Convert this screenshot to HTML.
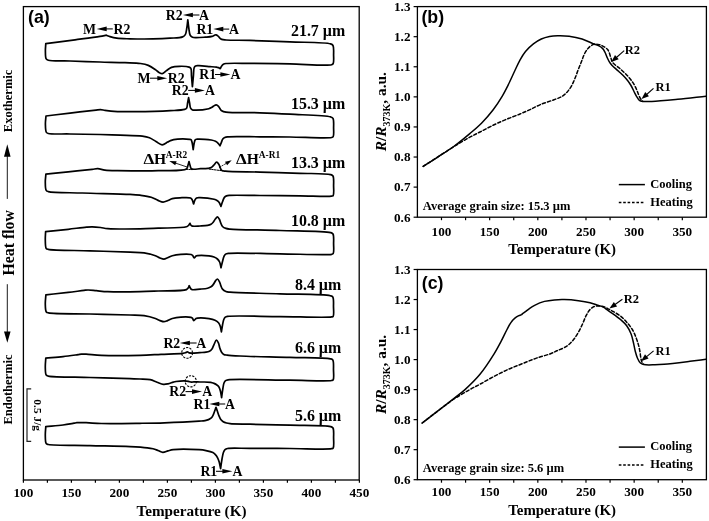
<!DOCTYPE html>
<html><head><meta charset="utf-8"><style>
html,body{margin:0;padding:0;background:#fff;}
svg{display:block;}
</style></head><body>
<svg width="709" height="521" viewBox="0 0 709 521">
<rect width="709" height="521" fill="#fff"/>
<rect x="23.40" y="6.60" width="335.80" height="473.40" fill="none" stroke="#000" stroke-width="1.3"/>
<line x1="23.40" y1="480.00" x2="23.40" y2="482.80" stroke="#000" stroke-width="1.20" />
<text x="23.40" y="496.80" font-size="13.20" font-family="'Liberation Serif','Times New Roman',serif" font-weight="bold" text-anchor="middle" >100</text>
<line x1="47.40" y1="480.00" x2="47.40" y2="482.80" stroke="#000" stroke-width="1.20" />
<line x1="71.40" y1="480.00" x2="71.40" y2="482.80" stroke="#000" stroke-width="1.20" />
<text x="71.40" y="496.80" font-size="13.20" font-family="'Liberation Serif','Times New Roman',serif" font-weight="bold" text-anchor="middle" >150</text>
<line x1="95.40" y1="480.00" x2="95.40" y2="482.80" stroke="#000" stroke-width="1.20" />
<line x1="119.40" y1="480.00" x2="119.40" y2="482.80" stroke="#000" stroke-width="1.20" />
<text x="119.40" y="496.80" font-size="13.20" font-family="'Liberation Serif','Times New Roman',serif" font-weight="bold" text-anchor="middle" >200</text>
<line x1="143.40" y1="480.00" x2="143.40" y2="482.80" stroke="#000" stroke-width="1.20" />
<line x1="167.40" y1="480.00" x2="167.40" y2="482.80" stroke="#000" stroke-width="1.20" />
<text x="167.40" y="496.80" font-size="13.20" font-family="'Liberation Serif','Times New Roman',serif" font-weight="bold" text-anchor="middle" >250</text>
<line x1="191.40" y1="480.00" x2="191.40" y2="482.80" stroke="#000" stroke-width="1.20" />
<line x1="215.40" y1="480.00" x2="215.40" y2="482.80" stroke="#000" stroke-width="1.20" />
<text x="215.40" y="496.80" font-size="13.20" font-family="'Liberation Serif','Times New Roman',serif" font-weight="bold" text-anchor="middle" >300</text>
<line x1="239.40" y1="480.00" x2="239.40" y2="482.80" stroke="#000" stroke-width="1.20" />
<line x1="263.40" y1="480.00" x2="263.40" y2="482.80" stroke="#000" stroke-width="1.20" />
<text x="263.40" y="496.80" font-size="13.20" font-family="'Liberation Serif','Times New Roman',serif" font-weight="bold" text-anchor="middle" >350</text>
<line x1="287.40" y1="480.00" x2="287.40" y2="482.80" stroke="#000" stroke-width="1.20" />
<line x1="311.40" y1="480.00" x2="311.40" y2="482.80" stroke="#000" stroke-width="1.20" />
<text x="311.40" y="496.80" font-size="13.20" font-family="'Liberation Serif','Times New Roman',serif" font-weight="bold" text-anchor="middle" >400</text>
<line x1="335.40" y1="480.00" x2="335.40" y2="482.80" stroke="#000" stroke-width="1.20" />
<line x1="359.40" y1="480.00" x2="359.40" y2="482.80" stroke="#000" stroke-width="1.20" />
<text x="359.40" y="496.80" font-size="13.20" font-family="'Liberation Serif','Times New Roman',serif" font-weight="bold" text-anchor="middle" >450</text>
<text x="191.50" y="516.40" font-size="15.20" font-family="'Liberation Serif','Times New Roman',serif" font-weight="bold" text-anchor="middle" >Temperature (K)</text>
<text x="28.00" y="23.00" font-size="17.80" font-family="'Liberation Sans',Arial,sans-serif" font-weight="bold" text-anchor="start" >(a)</text>
<text x="0" y="0" font-size="12.50" font-family="'Liberation Serif','Times New Roman',serif" font-weight="bold" text-anchor="middle" transform="translate(12.00,100.90) rotate(-90)" >Exothermic</text>
<text x="0" y="0" font-size="15.80" font-family="'Liberation Serif','Times New Roman',serif" font-weight="bold" text-anchor="middle" transform="translate(14.10,242.80) rotate(-90)" >Heat flow</text>
<text x="0" y="0" font-size="12.50" font-family="'Liberation Serif','Times New Roman',serif" font-weight="bold" text-anchor="middle" transform="translate(12.00,389.50) rotate(-90)" >Endothermic</text>
<line x1="7.30" y1="198.90" x2="7.30" y2="154.00" stroke="#000" stroke-width="0.90" />
<polygon points="7.3,144.2 4.0,156.8 10.6,156.8" fill="#000"/>
<line x1="7.30" y1="284.20" x2="7.30" y2="334.00" stroke="#000" stroke-width="0.90" />
<polygon points="7.3,342.8 4.0,331.5 10.6,331.5" fill="#000"/>
<path d="M31.2,388.8 L27,388.8 L27,441.3 L31.2,441.3" fill="none" stroke="#222" stroke-width="1.2"/>
<text x="0" y="0" font-size="11.40" font-family="'Liberation Serif','Times New Roman',serif" font-weight="bold" text-anchor="middle" transform="translate(33.60,415.20) rotate(90)" >0.5 J/g</text>
<path d="M45.80,43.60 C55.53,42.33 65.65,41.04 75.00,39.80 C83.66,38.65 94.41,37.30 100.00,36.40 C102.84,35.94 104.27,35.60 106.40,35.20 C107.60,35.67 108.60,36.16 110.00,36.60 C111.87,37.18 114.07,37.83 116.70,38.20 C120.36,38.71 124.97,38.68 130.00,38.80 C136.58,38.96 145.74,39.03 152.80,38.90 C158.94,38.79 164.72,38.58 170.00,38.20 C174.53,37.87 180.03,38.00 182.60,36.90 C183.96,36.32 184.63,35.71 185.30,34.60 C186.23,33.06 186.39,30.33 186.80,28.00 C187.25,25.43 187.47,22.53 187.80,19.80 C188.13,22.53 188.38,25.36 188.80,28.00 C189.19,30.49 189.29,33.63 190.20,35.20 C190.78,36.21 191.60,36.78 192.50,37.20 C193.43,37.63 194.35,37.63 195.70,37.70 C197.99,37.82 202.12,37.44 205.00,37.20 C207.50,36.99 210.28,36.89 212.00,36.40 C213.08,36.09 213.76,35.47 214.50,35.20 C215.05,35.00 215.49,34.74 216.00,34.80 C216.59,34.87 217.24,35.35 217.80,35.80 C218.45,36.31 218.94,37.20 219.60,37.80 C220.27,38.40 220.89,39.03 221.80,39.40 C222.93,39.86 224.02,39.84 226.00,40.00 C230.71,40.37 240.99,40.16 250.00,40.40 C261.64,40.72 276.62,41.32 290.00,41.90 C303.48,42.48 325.38,42.18 330.60,43.90 C331.99,44.36 332.44,44.54 333.00,45.50 C334.01,47.25 333.58,51.92 333.60,55.00 C333.62,57.91 333.98,62.02 333.20,63.50 C332.82,64.22 332.58,64.38 331.60,64.70 C327.11,66.15 303.73,64.12 290.00,63.90 C276.54,63.69 261.64,63.45 250.00,63.40 C240.98,63.36 229.95,62.97 226.00,63.50 C224.68,63.68 224.15,63.76 223.40,64.20 C222.64,64.65 222.05,65.46 221.50,66.20 C220.94,66.96 220.65,68.58 220.10,68.70 C219.66,68.80 219.17,67.85 218.60,67.60 C217.98,67.33 217.40,67.33 216.50,67.20 C214.93,66.98 212.45,66.81 210.00,66.60 C206.81,66.32 201.65,65.73 199.00,65.70 C197.51,65.68 196.33,65.48 195.50,65.90 C194.87,66.22 194.53,66.68 194.20,67.50 C193.52,69.16 193.68,73.00 193.40,76.00 C193.08,79.36 192.73,83.13 192.40,86.70 C192.10,83.13 191.77,79.26 191.50,76.00 C191.28,73.25 191.67,69.81 190.90,68.40 C190.49,67.65 190.07,67.44 189.20,67.10 C187.33,66.38 182.49,66.21 179.40,66.30 C176.62,66.38 173.80,66.54 171.50,67.40 C169.43,68.17 167.75,69.80 166.10,70.90 C164.69,71.85 163.48,73.44 162.20,73.60 C161.12,73.73 160.01,72.96 159.00,72.40 C157.94,71.81 157.26,70.96 156.00,70.10 C154.05,68.77 150.96,66.51 148.30,65.40 C145.79,64.36 143.57,63.95 140.50,63.50 C136.24,62.88 130.78,62.93 125.00,62.70 C117.66,62.41 108.71,62.27 100.00,62.00 C90.46,61.71 79.19,61.30 70.00,61.00 C62.18,60.74 51.67,61.38 48.30,60.30 C47.15,59.93 46.70,59.73 46.20,58.90 C45.31,57.42 45.46,53.59 45.40,51.00 C45.34,48.50 45.67,46.07 45.80,43.60" fill="none" stroke="#000" stroke-width="1.70" stroke-linejoin="round" stroke-linecap="round" />
<path d="M46.00,116.00 C54.00,115.03 61.84,114.06 70.00,113.10 C78.49,112.10 90.91,110.62 96.00,110.10 C98.12,109.88 99.00,109.67 100.50,109.70 C102.00,109.73 103.24,110.09 105.00,110.30 C107.50,110.60 110.43,111.06 114.10,111.30 C119.69,111.66 127.34,111.74 135.30,111.70 C145.55,111.65 161.41,111.25 170.50,110.70 C176.26,110.35 182.07,110.23 184.60,109.40 C185.62,109.06 186.11,108.90 186.60,108.20 C187.34,107.15 187.27,104.74 187.60,103.00 C187.93,101.24 188.27,99.47 188.60,97.70 C188.93,99.47 189.27,101.24 189.60,103.00 C189.93,104.74 189.92,107.01 190.60,108.20 C191.07,109.03 191.82,109.57 192.50,109.90 C193.09,110.18 193.47,110.18 194.40,110.20 C196.96,110.27 205.93,109.42 208.80,108.70 C210.09,108.38 210.66,108.07 211.50,107.60 C212.33,107.13 213.00,106.36 213.80,105.90 C214.57,105.47 215.42,104.84 216.20,104.90 C216.99,104.96 217.85,105.66 218.50,106.30 C219.21,107.00 219.62,108.22 220.20,109.00 C220.69,109.65 220.99,110.23 221.70,110.70 C222.71,111.36 223.85,111.74 226.00,112.10 C231.91,113.10 249.02,112.43 260.00,112.80 C270.32,113.15 279.25,113.59 290.00,114.20 C302.51,114.91 325.38,115.21 330.60,116.90 C331.98,117.35 332.44,117.47 333.00,118.40 C334.03,120.12 333.58,124.89 333.60,128.00 C333.62,130.94 334.03,135.25 333.20,136.60 C332.82,137.22 332.55,137.26 331.60,137.50 C327.09,138.65 302.74,137.12 290.00,137.00 C279.18,136.90 270.20,136.83 260.00,136.80 C249.38,136.76 232.33,136.27 227.50,136.80 C226.09,136.95 225.59,137.02 224.80,137.40 C224.04,137.77 223.35,138.27 222.80,139.00 C222.12,139.90 221.78,141.43 221.30,142.60 C220.85,143.70 220.43,144.73 220.00,145.80 C219.47,145.07 219.07,144.30 218.40,143.60 C217.62,142.79 216.64,141.89 215.50,141.30 C214.22,140.64 212.62,140.33 211.00,140.00 C209.16,139.63 207.15,139.44 205.00,139.30 C202.53,139.14 198.64,139.01 197.00,139.20 C196.26,139.29 195.83,139.21 195.40,139.60 C194.77,140.17 194.53,141.66 194.20,143.00 C193.74,144.84 193.53,147.47 193.20,149.70 C192.87,147.47 192.66,144.84 192.20,143.00 C191.87,141.66 191.62,140.14 191.00,139.60 C190.59,139.25 190.24,139.38 189.50,139.30 C187.43,139.09 181.04,138.88 177.60,139.20 C174.91,139.45 172.29,139.96 170.50,140.60 C169.31,141.02 168.80,141.54 167.70,142.10 C166.16,142.88 164.00,144.84 162.10,144.80 C160.10,144.75 158.07,142.64 156.00,141.50 C153.84,140.31 151.71,138.70 149.40,137.80 C147.14,136.91 145.35,136.53 142.30,136.10 C136.96,135.35 127.23,135.37 120.00,135.10 C113.15,134.84 107.34,134.67 100.00,134.50 C91.01,134.29 79.19,134.18 70.00,134.00 C62.18,133.84 51.56,134.41 48.30,133.50 C47.26,133.21 46.88,133.12 46.40,132.40 C45.46,130.98 45.46,126.77 45.40,124.00 C45.34,121.30 45.80,118.67 46.00,116.00" fill="none" stroke="#000" stroke-width="1.70" stroke-linejoin="round" stroke-linecap="round" />
<path d="M45.90,174.20 C53.33,173.40 60.63,172.60 68.20,171.80 C76.05,170.97 86.99,169.85 92.20,169.30 C94.72,169.03 95.83,168.61 97.80,168.70 C100.03,168.80 102.18,169.77 104.90,170.10 C108.51,170.54 112.77,170.58 117.60,170.70 C124.01,170.87 132.92,170.82 140.00,170.80 C146.38,170.78 151.47,170.83 158.20,170.60 C166.58,170.32 182.88,171.47 186.40,169.00 C187.69,168.09 187.47,166.71 187.90,165.50 C188.34,164.25 188.63,162.90 189.00,161.60 C189.37,162.90 189.68,164.26 190.10,165.50 C190.49,166.66 190.41,168.13 191.40,168.80 C192.99,169.87 197.61,168.79 200.50,168.70 C203.12,168.62 206.02,168.59 208.00,168.30 C209.33,168.10 210.33,168.02 211.30,167.50 C212.27,166.98 212.96,166.03 213.80,165.20 C214.72,164.28 215.71,162.24 216.60,162.20 C217.36,162.17 218.20,163.33 218.80,164.20 C219.52,165.24 219.85,167.08 220.40,168.20 C220.82,169.06 221.01,169.90 221.70,170.40 C222.55,171.01 223.53,170.97 225.40,171.20 C231.07,171.88 248.05,171.77 260.00,172.10 C272.85,172.46 287.56,172.85 300.00,173.30 C310.88,173.69 326.20,173.31 330.60,174.60 C331.93,174.99 332.44,175.09 333.00,176.00 C334.06,177.73 333.57,182.72 333.60,186.00 C333.63,189.18 334.11,194.08 333.20,195.40 C332.81,195.97 332.50,195.92 331.60,196.10 C327.76,196.88 311.15,195.89 300.00,195.80 C287.45,195.69 272.43,195.57 260.00,195.50 C249.15,195.44 234.35,195.01 229.50,195.40 C227.97,195.52 227.38,195.54 226.50,195.90 C225.69,196.23 224.99,196.67 224.40,197.40 C223.62,198.36 223.16,200.06 222.60,201.50 C221.99,203.05 221.47,204.77 220.90,206.40 C220.33,205.10 219.94,203.53 219.20,202.50 C218.58,201.64 217.84,201.03 217.00,200.50 C216.14,199.96 215.46,199.66 214.10,199.30 C211.20,198.54 203.10,197.65 200.00,197.60 C198.48,197.58 197.46,197.45 196.60,197.90 C195.87,198.28 195.45,198.99 195.00,199.80 C194.39,200.88 194.07,202.60 193.60,204.00 C193.13,202.60 192.81,200.86 192.20,199.80 C191.75,199.02 191.50,198.42 190.60,198.00 C188.70,197.13 183.25,197.66 180.00,197.80 C177.22,197.92 174.46,198.03 172.30,198.60 C170.62,199.05 169.50,199.93 168.00,200.50 C166.43,201.10 164.75,202.11 163.10,202.10 C161.42,202.09 159.80,201.12 158.00,200.40 C155.87,199.55 153.81,198.03 151.20,197.20 C147.99,196.18 143.64,195.67 140.00,195.20 C136.58,194.76 134.58,194.65 130.00,194.40 C120.02,193.85 96.86,193.51 82.30,193.00 C70.01,192.57 52.76,192.88 48.30,191.60 C47.11,191.26 46.71,191.18 46.20,190.40 C45.24,188.94 45.34,184.75 45.30,182.00 C45.26,179.35 45.70,176.80 45.90,174.20" fill="none" stroke="#000" stroke-width="1.70" stroke-linejoin="round" stroke-linecap="round" />
<path d="M45.60,231.70 C53.13,230.90 61.07,230.11 68.20,229.30 C74.62,228.57 82.13,227.48 86.50,227.10 C88.93,226.89 90.12,226.77 92.20,226.80 C94.73,226.84 97.92,227.18 100.60,227.50 C103.07,227.79 104.46,228.34 107.70,228.60 C114.56,229.16 130.77,229.03 140.00,228.90 C146.93,228.80 151.47,228.50 158.20,228.20 C166.58,227.83 182.36,228.16 186.40,226.80 C187.64,226.38 187.99,225.90 188.60,225.30 C189.18,224.73 189.53,223.97 190.00,223.30 C190.33,223.97 190.56,224.82 191.00,225.30 C191.36,225.70 191.65,225.92 192.30,226.10 C193.76,226.50 197.44,226.12 200.00,226.00 C202.54,225.88 205.59,225.83 207.60,225.40 C208.98,225.11 210.04,224.78 211.00,224.20 C211.87,223.68 212.50,223.00 213.20,222.20 C214.02,221.26 214.72,219.74 215.50,218.80 C216.13,218.04 216.77,216.87 217.40,216.90 C218.08,216.93 218.85,218.35 219.40,219.30 C220.03,220.40 220.27,221.97 220.80,223.20 C221.31,224.36 221.67,225.64 222.50,226.50 C223.35,227.38 224.67,227.97 225.90,228.40 C227.17,228.85 227.86,228.89 230.00,229.10 C237.41,229.83 263.29,229.92 280.00,230.50 C296.82,231.08 324.63,230.85 330.60,232.60 C332.00,233.01 332.44,233.09 333.00,234.00 C334.06,235.73 333.57,240.70 333.60,244.00 C333.63,247.23 334.12,252.26 333.20,253.60 C332.81,254.17 332.54,254.11 331.60,254.30 C326.48,255.35 297.19,253.97 280.00,253.80 C262.83,253.63 235.06,252.44 228.50,253.30 C226.91,253.51 226.36,253.57 225.60,254.10 C224.88,254.60 224.46,255.36 224.00,256.30 C223.35,257.62 222.98,259.69 222.50,261.50 C221.98,263.47 221.50,265.63 221.00,267.70 C220.53,265.80 220.32,263.54 219.60,262.00 C219.03,260.77 218.31,259.83 217.40,259.00 C216.46,258.15 215.29,257.51 214.00,257.00 C212.53,256.42 211.02,256.15 209.00,255.90 C205.97,255.53 199.53,255.36 197.50,255.60 C196.76,255.69 196.49,255.72 196.00,256.00 C195.38,256.36 194.75,257.85 194.20,257.80 C193.61,257.74 193.18,255.97 192.60,255.40 C192.16,254.97 191.93,254.72 191.20,254.50 C189.38,253.95 184.08,254.06 180.80,254.30 C177.81,254.52 174.69,254.99 172.30,255.70 C170.43,256.25 168.99,257.20 167.50,257.80 C166.22,258.31 165.13,259.06 163.90,259.10 C162.63,259.15 161.33,258.51 160.00,258.00 C158.50,257.42 157.32,256.41 155.40,255.70 C152.51,254.63 148.11,253.49 144.10,252.90 C139.69,252.25 135.90,252.45 130.00,252.20 C120.07,251.78 103.47,251.26 90.00,250.80 C76.24,250.33 53.35,250.63 48.30,249.40 C47.11,249.11 46.71,249.12 46.20,248.40 C45.22,247.02 45.40,242.80 45.30,240.00 C45.20,237.23 45.50,234.47 45.60,231.70" fill="none" stroke="#000" stroke-width="1.70" stroke-linejoin="round" stroke-linecap="round" />
<path d="M45.90,294.80 C53.33,294.00 61.41,293.20 68.20,292.40 C73.92,291.73 80.47,290.80 84.00,290.40 C85.77,290.20 86.42,290.01 88.00,290.00 C90.29,289.98 93.39,290.44 96.40,290.70 C99.89,291.00 102.96,291.49 107.70,291.70 C115.70,292.05 130.77,291.88 140.00,291.70 C146.93,291.57 151.47,291.30 158.20,291.00 C166.58,290.63 182.61,291.22 186.40,289.60 C187.55,289.11 187.83,288.48 188.30,287.80 C188.74,287.17 188.90,286.40 189.20,285.70 C189.53,286.40 189.79,287.16 190.20,287.80 C190.60,288.42 190.81,289.15 191.60,289.50 C193.15,290.19 197.27,289.33 200.00,289.10 C202.60,288.88 205.60,288.72 207.60,288.20 C208.99,287.84 210.04,287.44 211.00,286.80 C211.88,286.21 212.51,285.47 213.20,284.60 C214.02,283.56 214.71,281.89 215.50,280.90 C216.12,280.12 216.78,278.96 217.40,279.00 C218.08,279.04 218.85,280.59 219.40,281.60 C220.02,282.75 220.27,284.33 220.80,285.60 C221.31,286.82 221.67,288.13 222.50,289.10 C223.36,290.11 224.65,290.98 225.90,291.50 C227.15,292.02 227.86,291.98 230.00,292.20 C237.41,292.95 263.31,293.22 280.00,293.80 C296.74,294.38 324.24,294.10 330.30,295.70 C331.73,296.08 332.21,296.10 332.80,297.00 C333.91,298.69 333.44,303.73 333.50,307.00 C333.56,310.13 334.08,314.90 333.20,316.20 C332.82,316.77 332.54,316.71 331.60,316.90 C326.48,317.96 297.27,316.68 280.00,316.60 C262.58,316.52 233.42,315.37 227.50,316.40 C226.25,316.62 225.90,316.72 225.30,317.20 C224.65,317.72 224.21,318.54 223.80,319.50 C223.24,320.81 222.97,322.67 222.60,324.50 C222.16,326.70 221.80,329.37 221.40,331.80 C221.00,329.87 220.78,327.61 220.20,326.00 C219.74,324.74 219.30,323.73 218.50,322.80 C217.62,321.77 216.40,320.88 215.00,320.20 C213.33,319.39 211.35,318.96 209.00,318.60 C205.81,318.11 199.52,317.82 197.50,318.10 C196.75,318.20 196.51,318.30 196.00,318.60 C195.29,319.01 194.41,320.69 193.80,320.60 C193.21,320.51 192.95,318.74 192.40,318.20 C191.98,317.79 191.72,317.60 191.00,317.40 C189.19,316.89 184.04,316.88 180.80,317.10 C177.83,317.30 174.69,317.79 172.30,318.50 C170.43,319.05 169.00,320.04 167.50,320.60 C166.23,321.07 165.13,321.69 163.90,321.70 C162.63,321.71 161.33,321.09 160.00,320.60 C158.51,320.05 157.31,319.17 155.40,318.50 C152.50,317.49 148.11,316.29 144.10,315.70 C139.69,315.05 135.90,315.22 130.00,315.00 C120.07,314.63 103.46,314.35 90.00,314.00 C76.29,313.65 53.64,314.08 48.50,312.90 C47.26,312.61 46.84,312.63 46.30,311.90 C45.32,310.57 45.38,306.74 45.30,304.00 C45.21,301.05 45.70,297.87 45.90,294.80" fill="none" stroke="#000" stroke-width="1.70" stroke-linejoin="round" stroke-linecap="round" />
<path d="M45.80,358.10 C51.53,357.60 57.47,357.21 63.00,356.60 C68.18,356.03 74.74,355.05 78.00,354.60 C79.57,354.38 80.25,354.19 81.50,354.10 C82.93,354.00 84.12,354.02 86.10,354.10 C89.71,354.24 95.13,355.05 101.40,355.30 C111.34,355.69 129.08,355.53 140.00,355.30 C148.06,355.13 153.93,354.71 161.00,354.40 C168.20,354.08 179.03,353.90 182.80,353.40 C184.14,353.22 184.70,353.09 185.50,352.80 C186.21,352.54 186.77,351.79 187.40,351.80 C188.04,351.81 188.58,352.68 189.30,352.90 C190.10,353.15 190.87,353.09 192.00,353.10 C193.93,353.11 197.35,352.76 199.80,352.60 C201.99,352.46 204.24,352.50 206.00,352.20 C207.35,351.97 208.50,351.73 209.50,351.20 C210.40,350.72 211.12,350.17 211.80,349.30 C212.69,348.15 213.24,346.13 214.00,344.60 C214.74,343.10 215.49,340.28 216.30,340.20 C216.97,340.13 217.85,341.71 218.40,342.80 C219.10,344.18 219.24,346.38 219.80,348.00 C220.32,349.49 220.84,351.08 221.60,352.20 C222.23,353.12 222.91,353.92 223.80,354.40 C224.73,354.90 225.63,354.89 227.10,355.10 C229.98,355.50 234.29,355.72 240.00,356.00 C251.22,356.55 274.23,356.91 290.00,357.40 C304.16,357.84 324.99,357.49 330.30,358.80 C331.69,359.14 332.21,359.13 332.80,360.00 C333.92,361.65 333.43,366.68 333.50,370.00 C333.56,373.28 334.12,378.44 333.20,379.80 C332.81,380.37 332.53,380.31 331.60,380.50 C327.08,381.43 305.25,380.30 290.00,380.20 C271.39,380.07 234.77,378.72 228.00,379.80 C226.63,380.02 226.25,380.10 225.60,380.60 C224.90,381.13 224.43,381.97 224.00,383.00 C223.38,384.51 223.17,386.81 222.80,389.00 C222.36,391.60 222.00,394.73 221.60,397.60 C221.20,395.40 220.94,392.93 220.40,391.00 C219.96,389.42 219.50,387.85 218.80,386.80 C218.26,386.00 217.64,385.54 216.90,385.00 C216.07,384.39 215.02,383.85 214.00,383.40 C212.96,382.94 212.14,382.55 210.70,382.30 C208.18,381.85 203.05,382.09 200.00,382.00 C197.71,381.93 195.60,381.71 194.00,381.80 C192.92,381.86 192.20,382.27 191.30,382.20 C190.37,382.12 189.54,381.53 188.50,381.30 C187.25,381.03 185.94,380.83 184.30,380.80 C182.00,380.76 177.98,381.19 176.00,381.50 C174.88,381.68 174.42,381.82 173.40,382.10 C171.92,382.50 169.75,383.43 168.00,383.80 C166.42,384.13 165.04,384.47 163.40,384.30 C161.42,384.09 159.16,382.95 157.00,382.20 C154.76,381.42 152.74,380.24 150.20,379.70 C147.18,379.06 143.38,379.17 140.00,379.00 C136.65,378.83 134.44,378.83 130.00,378.70 C121.11,378.43 103.47,377.93 90.00,377.50 C76.24,377.06 53.35,377.33 48.30,376.10 C47.11,375.81 46.71,375.82 46.20,375.10 C45.24,373.75 45.38,369.77 45.30,367.00 C45.22,364.11 45.63,361.07 45.80,358.10" fill="none" stroke="#000" stroke-width="1.70" stroke-linejoin="round" stroke-linecap="round" />
<path d="M45.80,426.60 C51.53,426.07 57.91,425.65 63.00,425.00 C67.08,424.48 71.51,423.62 74.00,423.20 C75.28,422.99 75.66,422.81 76.90,422.70 C79.10,422.51 82.65,422.61 86.10,422.70 C90.56,422.82 95.14,423.35 101.40,423.50 C111.34,423.73 128.59,423.45 140.00,423.30 C149.09,423.18 155.63,423.11 164.50,422.80 C175.04,422.43 192.36,421.55 199.10,421.10 C201.89,420.91 203.30,420.91 205.00,420.60 C206.33,420.36 207.45,420.04 208.50,419.60 C209.43,419.21 210.28,418.84 211.00,418.20 C211.76,417.52 212.34,416.62 212.90,415.60 C213.58,414.36 214.07,412.63 214.60,411.20 C215.10,409.86 215.53,408.60 216.00,407.30 C216.47,408.60 216.92,409.84 217.40,411.20 C217.92,412.69 218.40,414.46 219.00,415.90 C219.54,417.20 220.05,418.50 220.80,419.50 C221.48,420.40 222.28,421.12 223.20,421.70 C224.16,422.30 225.36,422.68 226.50,423.00 C227.66,423.32 228.41,423.43 230.10,423.60 C234.05,423.99 242.22,423.99 250.00,424.20 C261.03,424.50 276.62,424.80 290.00,425.20 C303.48,425.60 325.37,425.09 330.60,426.60 C331.97,427.00 332.44,427.09 333.00,428.00 C334.06,429.73 333.57,434.67 333.60,438.00 C333.63,441.33 334.14,446.62 333.20,448.00 C332.81,448.57 332.53,448.51 331.60,448.70 C327.08,449.63 303.73,448.55 290.00,448.50 C276.54,448.45 261.43,448.39 250.00,448.40 C241.43,448.41 231.21,447.71 227.50,448.50 C226.21,448.77 225.67,448.99 225.00,449.60 C224.27,450.27 223.85,451.30 223.40,452.50 C222.76,454.20 222.43,456.61 222.00,459.00 C221.48,461.88 221.07,465.40 220.60,468.60 C220.13,466.40 219.77,463.93 219.20,462.00 C218.74,460.42 218.27,459.07 217.60,457.80 C216.98,456.62 216.23,455.49 215.40,454.60 C214.65,453.79 214.01,453.18 212.90,452.60 C211.23,451.73 208.32,451.08 206.00,450.60 C203.72,450.12 202.14,449.90 199.10,449.70 C193.23,449.31 178.52,448.96 173.20,449.60 C170.78,449.89 169.73,450.43 168.00,450.90 C166.26,451.37 164.49,452.48 162.80,452.40 C161.15,452.32 159.62,451.10 158.00,450.50 C156.36,449.90 154.74,449.25 153.00,448.80 C151.18,448.33 149.72,448.10 147.30,447.80 C143.10,447.29 136.96,446.93 130.00,446.60 C119.42,446.10 103.47,445.95 90.00,445.60 C76.24,445.25 53.36,445.61 48.30,444.50 C47.12,444.24 46.71,444.30 46.20,443.60 C45.20,442.24 45.36,437.85 45.30,435.00 C45.24,432.19 45.63,429.40 45.80,426.60" fill="none" stroke="#000" stroke-width="1.70" stroke-linejoin="round" stroke-linecap="round" />
<text x="318.10" y="36.40" font-size="15.90" font-family="'Liberation Serif','Times New Roman',serif" font-weight="bold" text-anchor="middle" >21.7 &#181;m</text>
<text x="318.10" y="108.70" font-size="15.90" font-family="'Liberation Serif','Times New Roman',serif" font-weight="bold" text-anchor="middle" >15.3 &#181;m</text>
<text x="318.10" y="168.30" font-size="15.90" font-family="'Liberation Serif','Times New Roman',serif" font-weight="bold" text-anchor="middle" >13.3 &#181;m</text>
<text x="318.10" y="226.10" font-size="15.90" font-family="'Liberation Serif','Times New Roman',serif" font-weight="bold" text-anchor="middle" >10.8 &#181;m</text>
<text x="318.10" y="289.80" font-size="15.90" font-family="'Liberation Serif','Times New Roman',serif" font-weight="bold" text-anchor="middle" >8.4 &#181;m</text>
<text x="318.10" y="352.70" font-size="15.90" font-family="'Liberation Serif','Times New Roman',serif" font-weight="bold" text-anchor="middle" >6.6 &#181;m</text>
<text x="318.10" y="420.70" font-size="15.90" font-family="'Liberation Serif','Times New Roman',serif" font-weight="bold" text-anchor="middle" >5.6 &#181;m</text>
<text x="83.00" y="33.60" font-size="13.80" font-family="'Liberation Serif','Times New Roman',serif" font-weight="bold" text-anchor="start" >M</text>
<line x1="112.80" y1="28.90" x2="105.70" y2="28.90" stroke="#000" stroke-width="1.05" />
<polygon points="96.70,28.90 106.70,26.60 106.70,31.20" fill="#000"/>
<text x="113.60" y="33.60" font-size="13.80" font-family="'Liberation Serif','Times New Roman',serif" font-weight="bold" text-anchor="start" >R2</text>
<text x="165.80" y="19.90" font-size="13.80" font-family="'Liberation Serif','Times New Roman',serif" font-weight="bold" text-anchor="start" >R2</text>
<line x1="199.40" y1="15.00" x2="191.90" y2="15.00" stroke="#000" stroke-width="1.05" />
<polygon points="182.90,15.00 192.90,12.70 192.90,17.30" fill="#000"/>
<text x="199.00" y="19.90" font-size="13.80" font-family="'Liberation Serif','Times New Roman',serif" font-weight="bold" text-anchor="start" >A</text>
<text x="196.40" y="33.80" font-size="13.80" font-family="'Liberation Serif','Times New Roman',serif" font-weight="bold" text-anchor="start" >R1</text>
<line x1="229.20" y1="29.10" x2="222.30" y2="29.10" stroke="#000" stroke-width="1.05" />
<polygon points="213.30,29.10 223.30,26.80 223.30,31.40" fill="#000"/>
<text x="229.00" y="33.80" font-size="13.80" font-family="'Liberation Serif','Times New Roman',serif" font-weight="bold" text-anchor="start" >A</text>
<text x="137.40" y="82.80" font-size="13.80" font-family="'Liberation Serif','Times New Roman',serif" font-weight="bold" text-anchor="start" >M</text>
<line x1="149.80" y1="78.20" x2="158.30" y2="78.20" stroke="#000" stroke-width="1.05" />
<polygon points="167.30,78.20 157.30,80.50 157.30,75.90" fill="#000"/>
<text x="167.70" y="82.80" font-size="13.80" font-family="'Liberation Serif','Times New Roman',serif" font-weight="bold" text-anchor="start" >R2</text>
<text x="199.20" y="79.10" font-size="13.80" font-family="'Liberation Serif','Times New Roman',serif" font-weight="bold" text-anchor="start" >R1</text>
<line x1="215.00" y1="74.50" x2="221.40" y2="74.50" stroke="#000" stroke-width="1.05" />
<polygon points="230.40,74.50 220.40,76.80 220.40,72.20" fill="#000"/>
<text x="230.60" y="79.10" font-size="13.80" font-family="'Liberation Serif','Times New Roman',serif" font-weight="bold" text-anchor="start" >A</text>
<text x="171.70" y="95.10" font-size="13.80" font-family="'Liberation Serif','Times New Roman',serif" font-weight="bold" text-anchor="start" >R2</text>
<line x1="188.20" y1="90.40" x2="195.90" y2="90.40" stroke="#000" stroke-width="1.05" />
<polygon points="204.90,90.40 194.90,92.70 194.90,88.10" fill="#000"/>
<text x="205.10" y="95.10" font-size="13.80" font-family="'Liberation Serif','Times New Roman',serif" font-weight="bold" text-anchor="start" >A</text>
<text x="0" y="0" font-size="15.6" font-family="'Liberation Serif','Times New Roman',serif" font-weight="bold" transform="translate(143.4,164.3) scale(1.1,1)">&#916;</text>
<text x="154.00" y="164.30" font-size="15.60" font-family="'Liberation Serif','Times New Roman',serif" font-weight="bold" text-anchor="start" >H</text>
<text x="165.80" y="157.80" font-size="9.40" font-family="'Liberation Serif','Times New Roman',serif" font-weight="bold" text-anchor="start" >A-R2</text>
<line x1="187.60" y1="167.20" x2="174.98" y2="162.93" stroke="#000" stroke-width="0.85" />
<polygon points="169.30,161.00 176.60,161.26 175.26,165.24" fill="#000"/>
<text x="0" y="0" font-size="15.6" font-family="'Liberation Serif','Times New Roman',serif" font-weight="bold" transform="translate(236.1,164.3) scale(1.1,1)">&#916;</text>
<text x="246.70" y="164.30" font-size="15.60" font-family="'Liberation Serif','Times New Roman',serif" font-weight="bold" text-anchor="start" >H</text>
<text x="258.80" y="157.80" font-size="9.40" font-family="'Liberation Serif','Times New Roman',serif" font-weight="bold" text-anchor="start" >A-R1</text>
<line x1="219.00" y1="167.60" x2="226.95" y2="162.97" stroke="#000" stroke-width="0.85" stroke-dasharray="2.2,0.8"/>
<polygon points="231.70,160.20 227.14,165.29 225.03,161.66" fill="#000"/>
<path d="M186.4,169.3 L192,169.6" fill="none" stroke="#000" stroke-width="1.00" stroke-linejoin="round" stroke-linecap="round" stroke-dasharray="1.5,1"/>
<path d="M209,169.1 L222.6,170.8" fill="none" stroke="#000" stroke-width="1.00" stroke-linejoin="round" stroke-linecap="round" stroke-dasharray="1.6,1.1"/>
<text x="163.40" y="347.60" font-size="13.80" font-family="'Liberation Serif','Times New Roman',serif" font-weight="bold" text-anchor="start" >R2</text>
<line x1="196.60" y1="343.00" x2="188.90" y2="343.00" stroke="#000" stroke-width="1.05" />
<polygon points="179.90,343.00 189.90,340.70 189.90,345.30" fill="#000"/>
<text x="196.20" y="347.60" font-size="13.80" font-family="'Liberation Serif','Times New Roman',serif" font-weight="bold" text-anchor="start" >A</text>
<text x="169.20" y="396.30" font-size="13.80" font-family="'Liberation Serif','Times New Roman',serif" font-weight="bold" text-anchor="start" >R2</text>
<line x1="185.50" y1="391.60" x2="193.00" y2="391.60" stroke="#000" stroke-width="1.05" />
<polygon points="202.00,391.60 192.00,393.90 192.00,389.30" fill="#000"/>
<text x="202.20" y="396.30" font-size="13.80" font-family="'Liberation Serif','Times New Roman',serif" font-weight="bold" text-anchor="start" >A</text>
<circle cx="187.1" cy="352.9" r="5.4" fill="none" stroke="#000" stroke-width="1.1" stroke-dasharray="2.2,1.2"/>
<circle cx="190.8" cy="381.3" r="5.6" fill="none" stroke="#000" stroke-width="1.1" stroke-dasharray="2.2,1.2"/>
<text x="193.50" y="408.60" font-size="13.80" font-family="'Liberation Serif','Times New Roman',serif" font-weight="bold" text-anchor="start" >R1</text>
<line x1="225.20" y1="404.00" x2="218.30" y2="404.00" stroke="#000" stroke-width="1.05" />
<polygon points="209.30,404.00 219.30,401.70 219.30,406.30" fill="#000"/>
<text x="225.00" y="408.60" font-size="13.80" font-family="'Liberation Serif','Times New Roman',serif" font-weight="bold" text-anchor="start" >A</text>
<text x="200.40" y="476.00" font-size="13.80" font-family="'Liberation Serif','Times New Roman',serif" font-weight="bold" text-anchor="start" >R1</text>
<line x1="216.00" y1="471.30" x2="223.40" y2="471.30" stroke="#000" stroke-width="1.05" />
<polygon points="232.40,471.30 222.40,473.60 222.40,469.00" fill="#000"/>
<text x="232.40" y="476.10" font-size="13.80" font-family="'Liberation Serif','Times New Roman',serif" font-weight="bold" text-anchor="start" >A</text>
<rect x="417.40" y="6.60" width="289.00" height="210.60" fill="none" stroke="#000" stroke-width="1.3"/>
<line x1="441.48" y1="217.20" x2="441.48" y2="220.20" stroke="#000" stroke-width="1.20" />
<text x="441.48" y="235.70" font-size="13.20" font-family="'Liberation Serif','Times New Roman',serif" font-weight="bold" text-anchor="middle" >100</text>
<line x1="465.57" y1="217.20" x2="465.57" y2="220.20" stroke="#000" stroke-width="1.20" />
<line x1="489.65" y1="217.20" x2="489.65" y2="220.20" stroke="#000" stroke-width="1.20" />
<text x="489.65" y="235.70" font-size="13.20" font-family="'Liberation Serif','Times New Roman',serif" font-weight="bold" text-anchor="middle" >150</text>
<line x1="513.73" y1="217.20" x2="513.73" y2="220.20" stroke="#000" stroke-width="1.20" />
<line x1="537.82" y1="217.20" x2="537.82" y2="220.20" stroke="#000" stroke-width="1.20" />
<text x="537.82" y="235.70" font-size="13.20" font-family="'Liberation Serif','Times New Roman',serif" font-weight="bold" text-anchor="middle" >200</text>
<line x1="561.90" y1="217.20" x2="561.90" y2="220.20" stroke="#000" stroke-width="1.20" />
<line x1="585.98" y1="217.20" x2="585.98" y2="220.20" stroke="#000" stroke-width="1.20" />
<text x="585.98" y="235.70" font-size="13.20" font-family="'Liberation Serif','Times New Roman',serif" font-weight="bold" text-anchor="middle" >250</text>
<line x1="610.07" y1="217.20" x2="610.07" y2="220.20" stroke="#000" stroke-width="1.20" />
<line x1="634.15" y1="217.20" x2="634.15" y2="220.20" stroke="#000" stroke-width="1.20" />
<text x="634.15" y="235.70" font-size="13.20" font-family="'Liberation Serif','Times New Roman',serif" font-weight="bold" text-anchor="middle" >300</text>
<line x1="658.23" y1="217.20" x2="658.23" y2="220.20" stroke="#000" stroke-width="1.20" />
<line x1="682.32" y1="217.20" x2="682.32" y2="220.20" stroke="#000" stroke-width="1.20" />
<text x="682.32" y="235.70" font-size="13.20" font-family="'Liberation Serif','Times New Roman',serif" font-weight="bold" text-anchor="middle" >350</text>
<line x1="413.60" y1="217.20" x2="417.40" y2="217.20" stroke="#000" stroke-width="1.20" />
<text x="410.50" y="221.50" font-size="13.20" font-family="'Liberation Serif','Times New Roman',serif" font-weight="bold" text-anchor="end" >0.6</text>
<line x1="413.60" y1="187.11" x2="417.40" y2="187.11" stroke="#000" stroke-width="1.20" />
<text x="410.50" y="191.41" font-size="13.20" font-family="'Liberation Serif','Times New Roman',serif" font-weight="bold" text-anchor="end" >0.7</text>
<line x1="413.60" y1="157.03" x2="417.40" y2="157.03" stroke="#000" stroke-width="1.20" />
<text x="410.50" y="161.33" font-size="13.20" font-family="'Liberation Serif','Times New Roman',serif" font-weight="bold" text-anchor="end" >0.8</text>
<line x1="413.60" y1="126.94" x2="417.40" y2="126.94" stroke="#000" stroke-width="1.20" />
<text x="410.50" y="131.24" font-size="13.20" font-family="'Liberation Serif','Times New Roman',serif" font-weight="bold" text-anchor="end" >0.9</text>
<line x1="413.60" y1="96.86" x2="417.40" y2="96.86" stroke="#000" stroke-width="1.20" />
<text x="410.50" y="101.16" font-size="13.20" font-family="'Liberation Serif','Times New Roman',serif" font-weight="bold" text-anchor="end" >1.0</text>
<line x1="413.60" y1="66.77" x2="417.40" y2="66.77" stroke="#000" stroke-width="1.20" />
<text x="410.50" y="71.07" font-size="13.20" font-family="'Liberation Serif','Times New Roman',serif" font-weight="bold" text-anchor="end" >1.1</text>
<line x1="413.60" y1="36.69" x2="417.40" y2="36.69" stroke="#000" stroke-width="1.20" />
<text x="410.50" y="40.99" font-size="13.20" font-family="'Liberation Serif','Times New Roman',serif" font-weight="bold" text-anchor="end" >1.2</text>
<line x1="413.60" y1="6.60" x2="417.40" y2="6.60" stroke="#000" stroke-width="1.20" />
<text x="410.50" y="10.90" font-size="13.20" font-family="'Liberation Serif','Times New Roman',serif" font-weight="bold" text-anchor="end" >1.3</text>
<text x="562.10" y="254.30" font-size="14.85" font-family="'Liberation Serif','Times New Roman',serif" font-weight="bold" text-anchor="middle" >Temperature (K)</text>
<text x="421.40" y="22.90" font-size="17.80" font-family="'Liberation Sans',Arial,sans-serif" font-weight="bold" text-anchor="start" >(b)</text>
<text x="0" y="0" font-size="15.4" font-family="'Liberation Serif','Times New Roman',serif" font-weight="bold" text-anchor="middle" transform="translate(386.4,111.70) rotate(-90)"><tspan font-style="italic">R</tspan>/<tspan font-style="italic">R</tspan><tspan font-size="10" dy="3.6">373K</tspan><tspan dy="-3.6">, a.u.</tspan></text>
<path d="M423.20,166.40 C428.13,163.23 433.01,160.16 438.00,156.90 C443.17,153.53 448.52,150.28 453.70,146.50 C459.12,142.54 464.91,137.73 469.80,133.60 C474.06,130.00 477.73,127.00 481.50,123.20 C485.48,119.18 489.50,114.57 493.00,110.00 C496.42,105.53 499.66,100.52 502.30,96.10 C504.57,92.31 506.15,89.11 508.10,85.20 C510.31,80.76 512.68,75.27 514.80,70.80 C516.66,66.88 518.21,63.15 520.10,59.80 C521.80,56.78 523.36,54.09 525.50,51.50 C527.75,48.77 530.65,46.04 533.40,43.90 C535.93,41.93 538.56,40.24 541.30,39.00 C543.93,37.81 546.75,37.05 549.50,36.50 C552.18,35.96 554.66,35.78 557.60,35.70 C561.10,35.60 565.17,35.70 569.10,36.20 C573.32,36.74 578.01,37.70 582.10,39.00 C585.98,40.23 590.08,42.49 593.10,43.70 C595.18,44.53 596.79,44.88 598.40,45.70 C599.90,46.47 601.38,47.26 602.50,48.40 C603.61,49.53 604.33,51.02 605.10,52.50 C605.92,54.07 606.48,56.02 607.20,57.60 C607.85,59.03 608.42,60.34 609.20,61.60 C609.98,62.87 610.72,63.90 611.90,65.20 C613.57,67.04 616.38,69.22 618.60,71.30 C620.85,73.41 623.27,75.49 625.30,77.80 C627.29,80.06 629.20,82.60 630.70,85.00 C632.05,87.16 632.95,89.47 634.00,91.50 C634.94,93.31 635.74,95.07 636.70,96.60 C637.55,97.97 638.31,99.50 639.40,100.30 C640.35,101.00 641.30,101.17 642.70,101.40 C644.96,101.77 647.99,101.55 651.80,101.40 C658.23,101.14 668.88,100.12 677.70,99.30 C686.93,98.44 696.57,97.30 706.00,96.30" fill="none" stroke="#000" stroke-width="1.50" stroke-linejoin="round" stroke-linecap="round" />
<path d="M423.20,166.40 C428.13,163.23 433.00,160.13 438.00,156.90 C443.16,153.57 448.40,149.98 453.70,146.70 C459.00,143.42 465.01,139.83 469.80,137.20 C473.55,135.14 476.40,133.85 480.00,132.00 C484.07,129.91 488.64,127.40 493.00,125.30 C497.30,123.23 501.56,121.36 506.00,119.50 C510.56,117.59 515.74,115.77 520.00,114.00 C523.63,112.49 526.58,111.17 530.00,109.60 C533.66,107.92 537.30,105.85 541.30,104.20 C545.60,102.42 551.26,100.84 555.00,99.40 C557.65,98.38 559.70,97.81 561.70,96.60 C563.61,95.45 565.24,94.04 566.80,92.40 C568.47,90.64 569.98,88.53 571.30,86.30 C572.70,83.92 573.77,81.19 574.90,78.50 C576.08,75.70 577.09,72.66 578.20,69.80 C579.29,67.00 580.43,64.22 581.50,61.50 C582.53,58.89 583.24,56.16 584.50,53.80 C585.70,51.54 587.12,49.22 588.80,47.60 C590.30,46.14 592.22,44.77 593.90,44.30 C595.28,43.91 596.63,44.17 598.00,44.40 C599.46,44.64 600.92,45.04 602.40,45.80 C604.18,46.71 606.46,48.06 607.80,49.80 C609.19,51.60 609.69,54.34 610.50,56.50 C611.24,58.49 611.26,60.48 612.50,62.30 C614.06,64.59 617.41,66.36 619.90,68.60 C622.57,71.00 625.67,73.71 628.00,76.30 C630.06,78.58 631.81,80.86 633.30,83.20 C634.67,85.36 635.76,87.71 636.70,89.80 C637.51,91.61 637.99,93.40 638.70,95.00 C639.33,96.44 639.98,97.91 640.70,99.00 C641.27,99.85 641.90,100.40 642.50,101.10" fill="none" stroke="#000" stroke-width="1.50" stroke-linejoin="round" stroke-linecap="round" stroke-dasharray="3.2,2.2" stroke-linecap="butt"/>
<line x1="618.80" y1="184.60" x2="644.90" y2="184.60" stroke="#000" stroke-width="1.50" />
<text x="650.30" y="187.80" font-size="12.50" font-family="'Liberation Serif','Times New Roman',serif" font-weight="bold" text-anchor="start" >Cooling</text>
<line x1="618.80" y1="202.40" x2="644.90" y2="202.40" stroke="#000" stroke-width="1.50" stroke-dasharray="2.6,1.8"/>
<text x="650.30" y="205.60" font-size="12.50" font-family="'Liberation Serif','Times New Roman',serif" font-weight="bold" text-anchor="start" >Heating</text>
<text x="422.80" y="209.90" font-size="12.50" font-family="'Liberation Serif','Times New Roman',serif" font-weight="bold" text-anchor="start" >Average grain size: 15.3 &#181;m</text>
<text x="624.80" y="54.20" font-size="12.50" font-family="'Liberation Serif','Times New Roman',serif" font-weight="bold" text-anchor="start" >R2</text>
<line x1="624.20" y1="50.70" x2="616.11" y2="57.74" stroke="#000" stroke-width="1.10" />
<polygon points="611.20,62.00 615.02,54.97 618.70,59.19" fill="#000"/>
<text x="655.40" y="91.30" font-size="12.50" font-family="'Liberation Serif','Times New Roman',serif" font-weight="bold" text-anchor="start" >R1</text>
<line x1="653.50" y1="88.40" x2="646.35" y2="94.77" stroke="#000" stroke-width="1.10" />
<polygon points="641.50,99.10 645.23,92.02 648.96,96.20" fill="#000"/>
<rect x="417.40" y="269.50" width="289.00" height="210.20" fill="none" stroke="#000" stroke-width="1.3"/>
<line x1="441.48" y1="479.70" x2="441.48" y2="482.70" stroke="#000" stroke-width="1.20" />
<text x="441.48" y="496.10" font-size="13.20" font-family="'Liberation Serif','Times New Roman',serif" font-weight="bold" text-anchor="middle" >100</text>
<line x1="465.57" y1="479.70" x2="465.57" y2="482.70" stroke="#000" stroke-width="1.20" />
<line x1="489.65" y1="479.70" x2="489.65" y2="482.70" stroke="#000" stroke-width="1.20" />
<text x="489.65" y="496.10" font-size="13.20" font-family="'Liberation Serif','Times New Roman',serif" font-weight="bold" text-anchor="middle" >150</text>
<line x1="513.73" y1="479.70" x2="513.73" y2="482.70" stroke="#000" stroke-width="1.20" />
<line x1="537.82" y1="479.70" x2="537.82" y2="482.70" stroke="#000" stroke-width="1.20" />
<text x="537.82" y="496.10" font-size="13.20" font-family="'Liberation Serif','Times New Roman',serif" font-weight="bold" text-anchor="middle" >200</text>
<line x1="561.90" y1="479.70" x2="561.90" y2="482.70" stroke="#000" stroke-width="1.20" />
<line x1="585.98" y1="479.70" x2="585.98" y2="482.70" stroke="#000" stroke-width="1.20" />
<text x="585.98" y="496.10" font-size="13.20" font-family="'Liberation Serif','Times New Roman',serif" font-weight="bold" text-anchor="middle" >250</text>
<line x1="610.07" y1="479.70" x2="610.07" y2="482.70" stroke="#000" stroke-width="1.20" />
<line x1="634.15" y1="479.70" x2="634.15" y2="482.70" stroke="#000" stroke-width="1.20" />
<text x="634.15" y="496.10" font-size="13.20" font-family="'Liberation Serif','Times New Roman',serif" font-weight="bold" text-anchor="middle" >300</text>
<line x1="658.23" y1="479.70" x2="658.23" y2="482.70" stroke="#000" stroke-width="1.20" />
<line x1="682.32" y1="479.70" x2="682.32" y2="482.70" stroke="#000" stroke-width="1.20" />
<text x="682.32" y="496.10" font-size="13.20" font-family="'Liberation Serif','Times New Roman',serif" font-weight="bold" text-anchor="middle" >350</text>
<line x1="413.60" y1="479.70" x2="417.40" y2="479.70" stroke="#000" stroke-width="1.20" />
<text x="410.50" y="484.00" font-size="13.20" font-family="'Liberation Serif','Times New Roman',serif" font-weight="bold" text-anchor="end" >0.6</text>
<line x1="413.60" y1="449.67" x2="417.40" y2="449.67" stroke="#000" stroke-width="1.20" />
<text x="410.50" y="453.97" font-size="13.20" font-family="'Liberation Serif','Times New Roman',serif" font-weight="bold" text-anchor="end" >0.7</text>
<line x1="413.60" y1="419.64" x2="417.40" y2="419.64" stroke="#000" stroke-width="1.20" />
<text x="410.50" y="423.94" font-size="13.20" font-family="'Liberation Serif','Times New Roman',serif" font-weight="bold" text-anchor="end" >0.8</text>
<line x1="413.60" y1="389.61" x2="417.40" y2="389.61" stroke="#000" stroke-width="1.20" />
<text x="410.50" y="393.91" font-size="13.20" font-family="'Liberation Serif','Times New Roman',serif" font-weight="bold" text-anchor="end" >0.9</text>
<line x1="413.60" y1="359.59" x2="417.40" y2="359.59" stroke="#000" stroke-width="1.20" />
<text x="410.50" y="363.89" font-size="13.20" font-family="'Liberation Serif','Times New Roman',serif" font-weight="bold" text-anchor="end" >1.0</text>
<line x1="413.60" y1="329.56" x2="417.40" y2="329.56" stroke="#000" stroke-width="1.20" />
<text x="410.50" y="333.86" font-size="13.20" font-family="'Liberation Serif','Times New Roman',serif" font-weight="bold" text-anchor="end" >1.1</text>
<line x1="413.60" y1="299.53" x2="417.40" y2="299.53" stroke="#000" stroke-width="1.20" />
<text x="410.50" y="303.83" font-size="13.20" font-family="'Liberation Serif','Times New Roman',serif" font-weight="bold" text-anchor="end" >1.2</text>
<line x1="413.60" y1="269.50" x2="417.40" y2="269.50" stroke="#000" stroke-width="1.20" />
<text x="410.50" y="273.80" font-size="13.20" font-family="'Liberation Serif','Times New Roman',serif" font-weight="bold" text-anchor="end" >1.3</text>
<text x="562.10" y="514.50" font-size="14.85" font-family="'Liberation Serif','Times New Roman',serif" font-weight="bold" text-anchor="middle" >Temperature (K)</text>
<text x="421.80" y="288.80" font-size="17.80" font-family="'Liberation Sans',Arial,sans-serif" font-weight="bold" text-anchor="start" >(c)</text>
<text x="0" y="0" font-size="15.4" font-family="'Liberation Serif','Times New Roman',serif" font-weight="bold" text-anchor="middle" transform="translate(386.4,374.40) rotate(-90)"><tspan font-style="italic">R</tspan>/<tspan font-style="italic">R</tspan><tspan font-size="10" dy="3.6">373K</tspan><tspan dy="-3.6">, a.u.</tspan></text>
<path d="M422.20,423.00 C427.13,419.20 432.01,415.45 437.00,411.60 C442.11,407.65 447.63,403.44 452.50,399.60 C456.91,396.13 460.76,393.43 465.00,389.60 C469.90,385.17 475.30,379.99 480.00,374.30 C485.05,368.18 490.31,359.98 494.10,353.90 C497.00,349.24 499.00,345.37 501.20,341.20 C503.28,337.25 505.22,332.87 507.00,329.50 C508.39,326.88 509.48,324.59 510.90,322.60 C512.14,320.87 513.48,319.29 514.90,318.10 C516.14,317.06 517.58,316.31 518.80,315.70 C519.79,315.21 520.67,314.97 521.60,314.60 L522.60,313.60 C523.30,313.13 523.86,312.80 524.70,312.20 C526.03,311.24 528.01,309.47 529.70,308.30 C531.31,307.18 532.63,306.28 534.60,305.30 C537.28,303.96 541.15,302.30 544.50,301.40 C547.75,300.53 551.10,300.20 554.40,299.90 C557.67,299.60 560.63,299.52 564.20,299.60 C568.50,299.70 573.92,300.14 578.40,300.70 C582.47,301.21 586.56,301.85 590.00,302.70 C592.86,303.41 595.29,304.39 597.70,305.20 C599.85,305.92 602.31,306.46 603.80,307.30 C604.82,307.87 605.10,308.46 606.10,309.20 C607.76,310.43 610.66,312.12 613.00,313.80 C615.55,315.63 618.45,317.72 620.80,319.80 C622.98,321.73 625.01,323.51 626.70,325.80 C628.47,328.21 629.98,331.18 631.10,334.00 C632.19,336.75 632.71,339.66 633.40,342.50 C634.08,345.32 634.49,348.30 635.20,351.00 C635.87,353.52 636.54,356.09 637.50,358.20 C638.32,360.02 639.20,361.92 640.40,363.00 C641.38,363.88 642.29,364.25 643.80,364.60 C646.41,365.21 651.46,364.87 655.00,364.80 C658.19,364.74 660.30,364.62 664.10,364.30 C670.53,363.75 682.40,362.24 690.00,361.30 C695.98,360.56 700.67,359.90 706.00,359.20" fill="none" stroke="#000" stroke-width="1.50" stroke-linejoin="round" stroke-linecap="round" />
<path d="M422.20,423.00 C427.13,419.20 432.00,415.40 437.00,411.60 C442.09,407.73 447.10,403.63 452.50,400.00 C458.02,396.29 464.76,392.45 469.80,389.60 C473.61,387.45 476.34,386.18 480.00,384.20 C484.33,381.86 489.37,378.88 494.10,376.40 C498.77,373.95 503.46,371.53 508.20,369.40 C512.86,367.30 517.60,365.58 522.30,363.70 C527.00,361.82 531.67,359.78 536.40,358.10 C541.07,356.45 546.73,355.12 550.50,353.70 C553.12,352.71 554.64,351.89 557.00,350.80 C559.87,349.48 563.83,348.08 566.50,346.30 C568.80,344.77 570.48,343.14 572.30,341.10 C574.35,338.80 576.30,335.85 578.00,333.00 C579.74,330.09 581.21,326.79 582.60,323.80 C583.89,321.03 584.84,318.12 586.10,315.70 C587.20,313.59 588.18,311.57 589.60,310.00 C590.92,308.54 592.57,307.17 594.20,306.50 C595.66,305.90 597.24,305.89 598.80,305.90 C600.43,305.91 602.25,306.10 603.80,306.60 C605.31,307.08 606.54,308.04 608.00,308.80 C609.59,309.63 611.17,310.35 613.00,311.40 C615.34,312.74 618.49,314.46 620.80,316.30 C622.96,318.02 624.66,319.91 626.50,322.00 C628.50,324.27 630.71,326.89 632.30,329.50 C633.81,331.97 634.87,334.63 635.90,337.20 C636.89,339.66 637.72,342.16 638.40,344.60 C639.04,346.92 639.48,349.19 639.90,351.50 C640.31,353.79 640.47,356.41 640.90,358.40 C641.24,359.96 641.58,361.44 642.10,362.50 C642.47,363.26 642.97,363.70 643.40,364.30" fill="none" stroke="#000" stroke-width="1.50" stroke-linejoin="round" stroke-linecap="round" stroke-dasharray="3.2,2.2" stroke-linecap="butt"/>
<line x1="618.80" y1="447.10" x2="644.90" y2="447.10" stroke="#000" stroke-width="1.50" />
<text x="650.30" y="450.30" font-size="12.50" font-family="'Liberation Serif','Times New Roman',serif" font-weight="bold" text-anchor="start" >Cooling</text>
<line x1="618.80" y1="464.90" x2="644.90" y2="464.90" stroke="#000" stroke-width="1.50" stroke-dasharray="2.6,1.8"/>
<text x="650.30" y="468.10" font-size="12.50" font-family="'Liberation Serif','Times New Roman',serif" font-weight="bold" text-anchor="start" >Heating</text>
<text x="422.80" y="472.40" font-size="12.50" font-family="'Liberation Serif','Times New Roman',serif" font-weight="bold" text-anchor="start" >Average grain size: 5.6 &#181;m</text>
<text x="623.80" y="302.80" font-size="12.50" font-family="'Liberation Serif','Times New Roman',serif" font-weight="bold" text-anchor="start" >R2</text>
<line x1="622.40" y1="299.20" x2="614.67" y2="304.79" stroke="#000" stroke-width="1.10" />
<polygon points="609.40,308.60 613.84,301.94 617.12,306.47" fill="#000"/>
<text x="655.50" y="354.50" font-size="12.50" font-family="'Liberation Serif','Times New Roman',serif" font-weight="bold" text-anchor="start" >R1</text>
<line x1="653.60" y1="350.90" x2="646.03" y2="357.09" stroke="#000" stroke-width="1.10" />
<polygon points="641.00,361.20 645.03,354.29 648.58,358.62" fill="#000"/>
</svg>
</body></html>
